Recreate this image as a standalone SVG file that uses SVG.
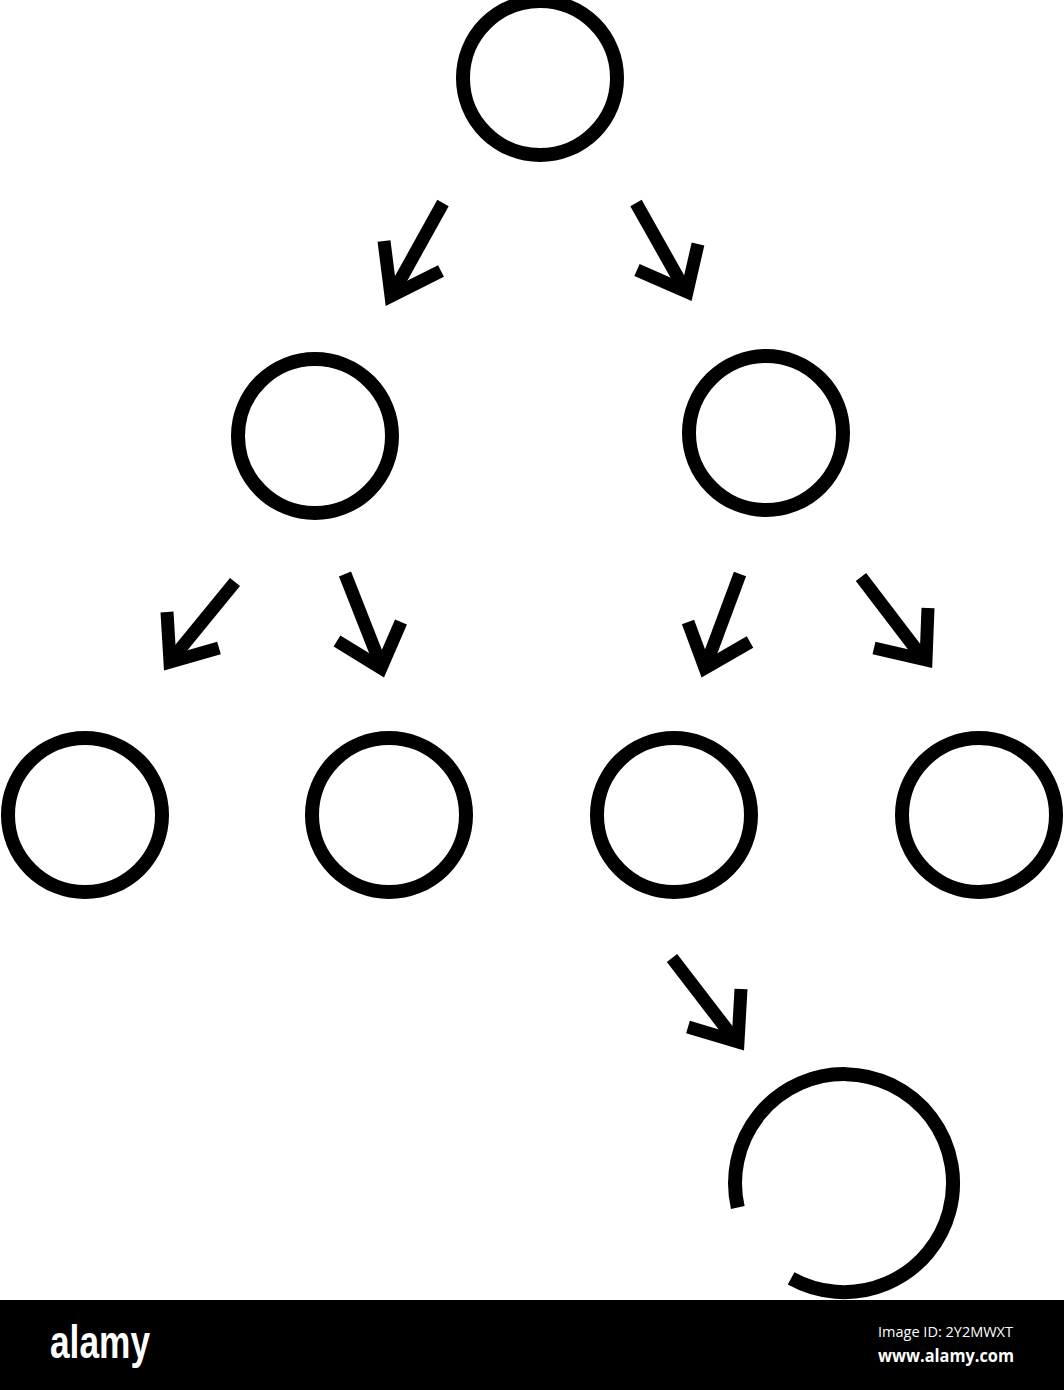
<svg xmlns="http://www.w3.org/2000/svg" width="1064" height="1390" viewBox="0 0 1064 1390">
<style>
.node{fill:none;stroke:#000;stroke-width:14}
.arr{fill:none;stroke:#000;stroke-width:13;stroke-linecap:butt;stroke-linejoin:miter;stroke-miterlimit:10}
.brand{fill:#fff;font-family:"Liberation Sans Narrow","Liberation Sans",Arial,sans-serif;font-weight:bold}
.meta{fill:#fff;font-family:"Open Sans","DejaVu Sans Condensed","Liberation Sans",sans-serif}
</style>
<rect x="0" y="0" width="1064" height="1390" fill="#fff"/>
<g id="n-root"><circle class="node" cx="540" cy="78" r="77"/></g>
<g id="n-l"><circle class="node" cx="315" cy="436" r="77"/></g>
<g id="n-r"><circle class="node" cx="766" cy="433" r="77"/></g>
<g id="n-ll"><circle class="node" cx="85" cy="815" r="77"/></g>
<g id="n-lr"><circle class="node" cx="389" cy="815" r="77"/></g>
<g id="n-rl"><circle class="node" cx="674" cy="815" r="77"/></g>
<g id="n-rr"><circle class="node" cx="979" cy="815" r="77"/></g>
<g id="n-partial"><path class="node" d="M737.8,1207.5 A109,109 0 1 1 791.1,1278.4"/></g>
<g id="connectors">
<path class="arr" d="M443,203 L393,293"/><path class="arr" d="M384,241 L391,296 L441,271"/>
<path class="arr" d="M636,203 L685,290"/><path class="arr" d="M637,270 L687,292 L698,244"/>
<path class="arr" d="M235,582 L172,659"/><path class="arr" d="M167,612 L170,662 L219,648"/>
<path class="arr" d="M345,574 L382,668"/><path class="arr" d="M337,641 L381,668 L401,622"/>
<path class="arr" d="M740,574 L705,668"/><path class="arr" d="M688,622 L705,668 L750,642"/>
<path class="arr" d="M861,577 L922,657"/><path class="arr" d="M874,648 L926,660 L928,608"/>
<path class="arr" d="M672,958 L735,1040"/><path class="arr" d="M688,1027 L738,1042 L741,989"/>
</g>
<g id="watermark">
<rect x="0" y="1300" width="1064" height="90" fill="#000"/>
<text class="brand" x="50" y="1358" font-size="46" textLength="100" lengthAdjust="spacingAndGlyphs">alamy</text>
<text class="meta" x="878" y="1337" font-size="14" textLength="135" lengthAdjust="spacingAndGlyphs">Image ID: 2Y2MWXT</text>
<text class="meta" x="878" y="1362" font-size="18" font-weight="bold" textLength="136" lengthAdjust="spacingAndGlyphs">www.alamy.com</text>
</g>
</svg>
